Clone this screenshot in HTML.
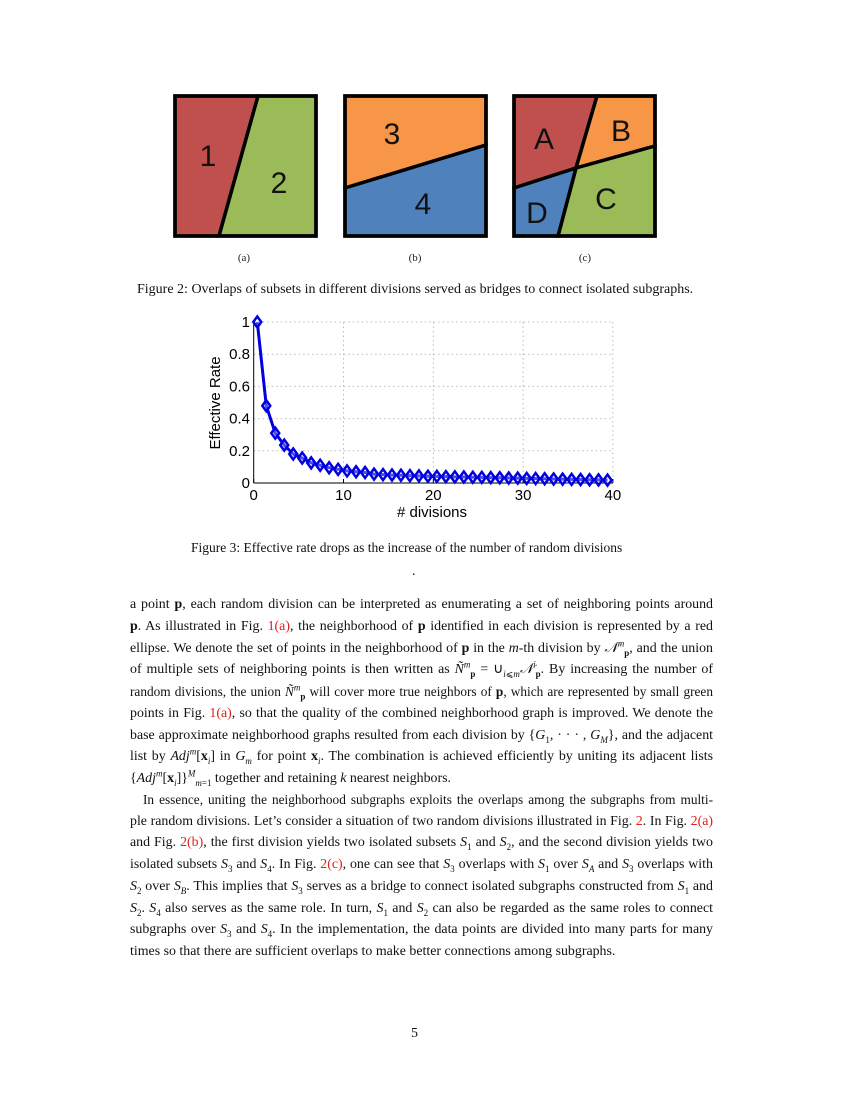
<!DOCTYPE html>
<html><head><meta charset="utf-8">
<style>
body{margin:0;background:#fff;}
#pg{position:relative;width:850px;height:1100px;overflow:hidden;font-family:"Liberation Serif",serif;color:#111;}
.l{position:absolute;left:130px;width:583px;height:20px;font-size:13.9px;line-height:18px;text-align:justify;text-align-last:justify;}
.l.e{text-align-last:left;}
.l.s{font-size:13.3px;}
.r{color:#e0201b;}
i{font-style:italic;}
sub,sup{font-size:9px;line-height:0;}
.c{position:absolute;font-size:14px;white-space:nowrap;}
</style></head><body><div id="pg">
<svg width="850" height="600" style="position:absolute;left:0;top:0" font-family="Liberation Sans, sans-serif">
<g stroke="#000" stroke-width="3.5" stroke-linejoin="miter">
<polygon points="175,96 258,96 219,236 175,236" fill="#c0504d"/>
<polygon points="258,96 316,96 316,236 219,236" fill="#9bbb59"/>
<rect x="175" y="96" width="141" height="140" fill="none"/>
<polygon points="345,96 486,96 486,145 345,188" fill="#f79646"/>
<polygon points="345,188 486,145 486,236 345,236" fill="#4f81bd"/>
<rect x="345" y="96" width="141" height="140" fill="none"/>
<polygon points="514,96 597,96 576,168 514,188" fill="#c0504d"/>
<polygon points="597,96 655,96 655,146 576,168" fill="#f79646"/>
<polygon points="576,168 655,146 655,236 558,236" fill="#9bbb59"/>
<polygon points="514,188 576,168 558,236 514,236" fill="#4f81bd"/>
<rect x="514" y="96" width="141" height="140" fill="none"/>
</g>
<g font-size="30" fill="#111" text-anchor="middle">
<text x="208" y="166">1</text><text x="279" y="193">2</text>
<text x="392" y="144">3</text><text x="423" y="214">4</text>
<text x="544" y="149">A</text><text x="621" y="141">B</text>
<text x="606" y="209">C</text><text x="537" y="223">D</text>
</g>
<g font-family="Liberation Serif, serif" font-size="11" text-anchor="middle" fill="#222">
<text x="244" y="261">(a)</text><text x="415" y="261">(b)</text><text x="585" y="261">(c)</text>
</g>
<g id="chart"></g>
</svg>
<div class="c" style="left:137px;top:282px;">Figure 2: Overlaps of subsets in different divisions served as bridges to connect isolated subgraphs.</div>
<div class="c" style="left:191px;top:540px;font-size:13.5px">Figure 3: Effective rate drops as the increase of the number of random divisions</div>
<div class="c" style="left:412px;top:564px;">.</div>

<div class="l" style="top:596px">a point <b>p</b>, each random division can be interpreted as enumerating a set of neighboring points around</div>
<div class="l" style="top:618px"><b>p</b>. As illustrated in Fig. <span class="r">1(a)</span>, the neighborhood of <b>p</b> identified in each division is represented by a red</div>
<div class="l" style="top:640px">ellipse. We denote the set of points in the neighborhood of <b>p</b> in the <i>m</i>-th division by <i>𝒩</i><sup><i>m</i></sup><sub><b>p</b></sub>, and the union</div>
<div class="l" style="top:661px">of multiple sets of neighboring points is then written as <i>Ñ</i><sup><i>m</i></sup><sub><b>p</b></sub> = ∪<sub><i>i</i>⩽<i>m</i></sub><i>𝒩</i><sup><i>i</i></sup><sub><b>p</b></sub>. By increasing the number of</div>
<div class="l s" style="top:683px">random divisions, the union <i>Ñ</i><sup><i>m</i></sup><sub><b>p</b></sub> will cover more true neighbors of <b>p</b>, which are represented by small green</div>
<div class="l" style="top:705px">points in Fig. <span class="r">1(a)</span>, so that the quality of the combined neighborhood graph is improved. We denote the</div>
<div class="l" style="top:727px">base approximate neighborhood graphs resulted from each division by {<i>G</i><sub>1</sub>, · · · , <i>G<sub>M</sub></i>}, and the adjacent</div>
<div class="l" style="top:748px">list by <i>Adj<sup>m</sup></i>[<b>x</b><sub><i>i</i></sub>] in <i>G<sub>m</sub></i> for point <b>x</b><sub><i>i</i></sub>. The combination is achieved efficiently by uniting its adjacent lists</div>
<div class="l e" style="top:770px">{<i>Adj<sup>m</sup></i>[<b>x</b><sub><i>i</i></sub>]}<sup><i>M</i></sup><sub><i>m</i>=1</sub> together and retaining <i>k</i> nearest neighbors.</div>

<div class="l s" style="top:791px;left:143px;width:570px">In essence, uniting the neighborhood subgraphs exploits the overlaps among the subgraphs from multi-</div>
<div class="l" style="top:813px">ple random divisions. Let’s consider a situation of two random divisions illustrated in Fig. <span class="r">2</span>. In Fig. <span class="r">2(a)</span></div>
<div class="l" style="top:834px">and Fig. <span class="r">2(b)</span>, the first division yields two isolated subsets <i>S</i><sub>1</sub> and <i>S</i><sub>2</sub>, and the second division yields two</div>
<div class="l" style="top:856px">isolated subsets <i>S</i><sub>3</sub> and <i>S</i><sub>4</sub>. In Fig. <span class="r">2(c)</span>, one can see that <i>S</i><sub>3</sub> overlaps with <i>S</i><sub>1</sub> over <i>S<sub>A</sub></i> and <i>S</i><sub>3</sub> overlaps with</div>
<div class="l" style="top:878px"><i>S</i><sub>2</sub> over <i>S<sub>B</sub></i>. This implies that <i>S</i><sub>3</sub> serves as a bridge to connect isolated subgraphs constructed from <i>S</i><sub>1</sub> and</div>
<div class="l" style="top:900px"><i>S</i><sub>2</sub>. <i>S</i><sub>4</sub> also serves as the same role. In turn, <i>S</i><sub>1</sub> and <i>S</i><sub>2</sub> can also be regarded as the same roles to connect</div>
<div class="l" style="top:921px">subgraphs over <i>S</i><sub>3</sub> and <i>S</i><sub>4</sub>. In the implementation, the data points are divided into many parts for many</div>
<div class="l e" style="top:943px">times so that there are sufficient overlaps to make better connections among subgraphs.</div>

<div class="c" style="left:411px;top:1026px;font-size:14px">5</div>
</div>
<script>
(function(){
var X=function(x){return 253.7+x*8.98},Y=function(v){return 483-v*161};
var s='';
for(var k=1;k<=4;k++){var gx=X(k*10);s+='<line x1="'+gx+'" y1="322" x2="'+gx+'" y2="483" stroke="#bbb" stroke-dasharray="1.5,3"/>';}
for(var k=1;k<=5;k++){var gy=Y(k*0.2);s+='<line x1="253.7" y1="'+gy+'" x2="613" y2="'+gy+'" stroke="#bbb" stroke-dasharray="1.5,3"/>';}
s+='<line x1="253.7" y1="322" x2="253.7" y2="483" stroke="#000"/><line x1="253.7" y1="483" x2="613" y2="483" stroke="#000"/>';
var lab=['0','10','20','30','40'];
for(var k=0;k<5;k++){s+='<text x="'+X(k*10)+'" y="500" font-size="15" text-anchor="middle">'+lab[k]+'</text>';s+='<line x1="'+X(k*10)+'" y1="483" x2="'+X(k*10)+'" y2="479" stroke="#000"/>';}
var yl=['0','0.2','0.4','0.6','0.8','1'];
for(var k=0;k<6;k++){s+='<text x="250" y="'+(Y(k*0.2)+5)+'" font-size="15" text-anchor="end">'+yl[k]+'</text>';}
s+='<text x="432" y="517" font-size="15" text-anchor="middle"># divisions</text>';
s+='<text transform="translate(220,403) rotate(-90)" font-size="15" text-anchor="middle">Effective Rate</text>';
var v=[1,.48,.31,.235,.18,.155,.125,.11,.095,.085,.075,.07,.065,.055,.052,.05,.048,.046,.044,.042];
for(var n=21;n<=40;n++){v.push(.042-(n-20)*0.0012);}
var pts=[];for(var i=0;i<40;i++){pts.push(X(i+0.4)+','+Y(v[i]));}
s+='<polyline points="'+pts.join(' ')+'" fill="none" stroke="#0000e0" stroke-width="3"/>';
for(var i=0;i<40;i++){var x=X(i+0.4),y=Y(v[i]);s+='<polygon points="'+x+','+(y-5.5)+' '+(x+4)+','+y+' '+x+','+(y+5.5)+' '+(x-4)+','+y+'" fill="#fff" fill-opacity="0.3" stroke="#0000e0" stroke-width="2.5"/>';}
document.getElementById('chart').innerHTML=s;
})();
</script>
</body></html>
